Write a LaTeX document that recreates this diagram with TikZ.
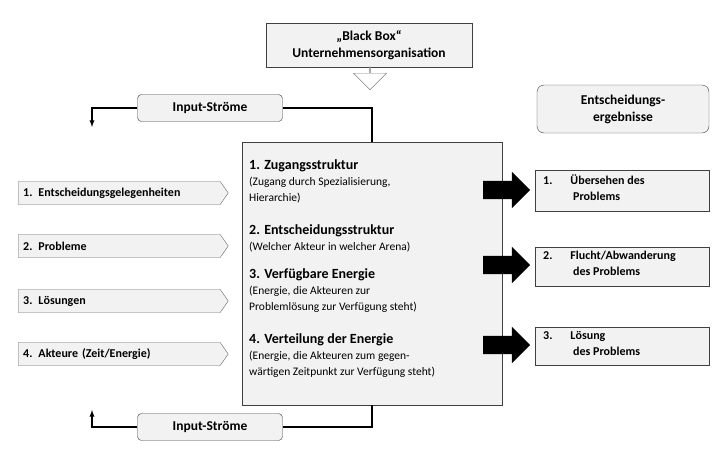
\documentclass[tikz,border=0pt]{standalone}
\usepackage{fontspec}
\setmainfont{Carlito}
\usetikzlibrary{shapes.symbols,shapes.arrows}
\definecolor{boxgray}{rgb}{0.949, 0.949, 0.949}
\tikzset{
  box/.style={draw=black!75, fill=boxgray, inner sep=0pt},
  roundbox/.style={box, rounded corners=4pt, font=\bfseries\fontsize{13.5}{17}\selectfont},
  inflow/.style={draw=black!60, fill=boxgray, signal, signal to=east, signal pointer angle=110,
    minimum width=207pt, minimum height=23pt, inner xsep=5pt, text width=192pt,
    font=\bfseries\fontsize{12}{14}\selectfont},
  outbox/.style={box, minimum width=174pt, anchor=north west},
  outtext/.style={anchor=north west, align=left, font=\bfseries\fontsize{12}{16}\selectfont, inner sep=0pt},
  fatarrow/.style={single arrow, fill=black, minimum width=36pt, minimum height=47pt,
    single arrow head extend=9pt, single arrow head indent=0pt, inner xsep=0pt, inner ysep=9pt},
  flow/.style={line width=1.3pt}
}
\newcommand{\mtitle}[1]{{\bfseries\fontsize{14}{16}\selectfont #1}}
\begin{document}
\begin{tikzpicture}[x=1pt, y=-1pt]
\useasboundingbox (0,0) rectangle (724,456);
% Black box
\node[box, minimum width=206pt, minimum height=44pt, align=center,
  font=\bfseries\fontsize{13.5}{17}\selectfont] (bb) at (369,45) {„Black Box“\\Unternehmensorganisation};
\node[single arrow, draw=black!50, fill=white, shape border rotate=270, minimum width=33pt,
  minimum height=23pt, single arrow head extend=8.5pt, inner xsep=0pt, inner ysep=8pt, anchor=tip] (bbarrow) at (370,90) {};
% main box
\node[box, minimum width=260pt, minimum height=263pt, anchor=north west] (main) at (242,142) {};
\node[anchor=north west, align=left, inner sep=0pt, font=\fontsize{11.5}{16}\selectfont] (mtext) at (249,159) {%
  \mtitle{1. Zugangsstruktur}\\
  (Zugang durch Spezialisierung,\\Hierarchie)\\[17pt]
  \mtitle{2. Entscheidungsstruktur}\\
  (Welcher Akteur in welcher Arena)\\[12pt]
  \mtitle{3. Verfügbare Energie}\\
  (Energie, die Akteuren zur\\Problemlösung zur Verfügung steht)\\[17pt]
  \mtitle{4. Verteilung der Energie}\\
  (Energie, die Akteuren zum gegen-\\wärtigen Zeitpunkt zur Verfügung steht)};
% input streams
\node[roundbox, minimum width=145pt, minimum height=27pt] (intop) at (210,108) {Input-Ströme};
\node[roundbox, minimum width=145pt, minimum height=27pt] (inbot) at (210,427) {Input-Ströme};
\coordinate (lefttop) at (92,127);
\coordinate (leftbot) at (92,410);
\draw[flow] (intop.east) -| (main.north -| 372,0);
\draw[flow, -latex] (intop.west) -| (lefttop);
\draw[flow] (inbot.east) -| (main.south -| 372,0);
\draw[flow, -latex] (inbot.west) -| (leftbot);
% left inflows
\node[inflow, anchor=west] (in1) at (18,193) {1. Entscheidungsgelegenheiten};
\node[inflow, anchor=west] (in2) at (18,246) {2. Probleme};
\node[inflow, anchor=west] (in3) at (18,301) {3. Lösungen};
\node[inflow, anchor=west] (in4) at (18,354) {4. Akteure (Zeit/Energie)};
% results
\node[roundbox, minimum width=172pt, minimum height=48pt, align=center, rounded corners=7pt]
  (res) at (623,109) {Entscheidungs-\\ergebnisse};
\node[fatarrow] (a1) at (502,190) {};
\node[fatarrow] (a2) at (502,265) {};
\node[fatarrow] (a3) at (502,345) {};
\node[outbox, minimum height=41pt] (r1) at (535,170) {};
\node[outbox, minimum height=39pt] (r2) at (535,247) {};
\node[outbox, minimum height=38pt] (r3) at (535,327) {};
\node[outtext] at ([shift={(8,5)}]r1.north west) {1.\hspace{18pt}\rlap{Übersehen des}\\\hspace{30pt}Problems};
\node[outtext] at ([shift={(8,4)}]r2.north west) {2.\hspace{18pt}\rlap{Flucht/Abwanderung}\\\hspace{30pt}des Problems};
\node[outtext] at ([shift={(8,4)}]r3.north west) {3.\hspace{18pt}\rlap{Lösung}\\\hspace{30pt}des Problems};
\end{tikzpicture}
\end{document}
